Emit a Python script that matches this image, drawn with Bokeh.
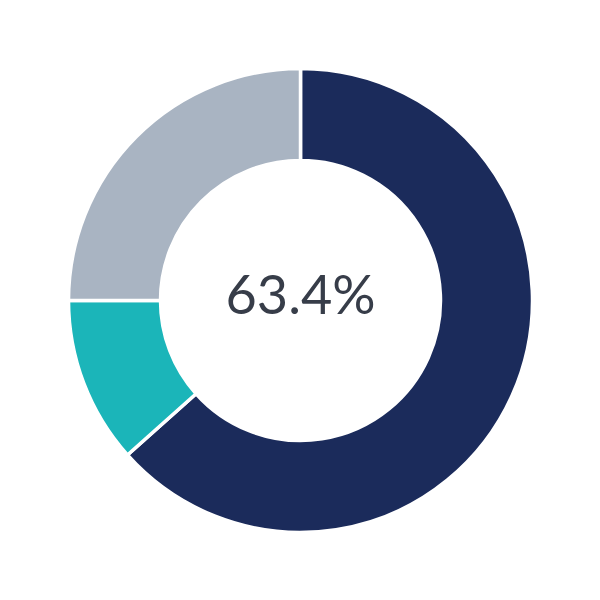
import numpy as np
from bokeh.plotting import figure
from bokeh.models import ColumnDataSource, Range1d
from bokeh.core.properties import value
from bokeh.embed import file_html
from bokeh.resources import INLINE

categories = ["A", "B", "C"]
shares = [63.4, 11.6, 25.0]
colors = ["#1b2b5b", "#1bb5b9", "#a9b4c2"]
center_label = "63.4%"

W = 584
p = figure(width=W, height=W, output_backend="svg", toolbar_location=None,
           x_range=Range1d(-300, W - 300), y_range=Range1d(-(W - 300), 300),
           min_border=0)
p.axis.visible = False
p.grid.visible = False
p.outline_line_color = None
p.background_fill_color = "white"
p.border_fill_color = "white"

fr = np.array(shares) / sum(shares)
cum = np.concatenate([[0], np.cumsum(fr)])
start = np.pi / 2 - cum[:-1] * 2 * np.pi
end = np.pi / 2 - cum[1:] * 2 * np.pi
src = ColumnDataSource(dict(cat=categories, start=start, end=end, color=colors))
p.annular_wedge(x=0, y=0, inner_radius=140, outer_radius=232,
                start_angle="start", end_angle="end", direction="clock",
                fill_color="color", line_color="white", line_width=3.5, source=src)

p.text(x=[0], y=[7], text=[center_label], text_align="center", text_baseline="middle",
       text_font=value("Lato"), text_font_size="54px", text_color="#373d49")

open("out.html", "w").write(file_html(p, INLINE))
